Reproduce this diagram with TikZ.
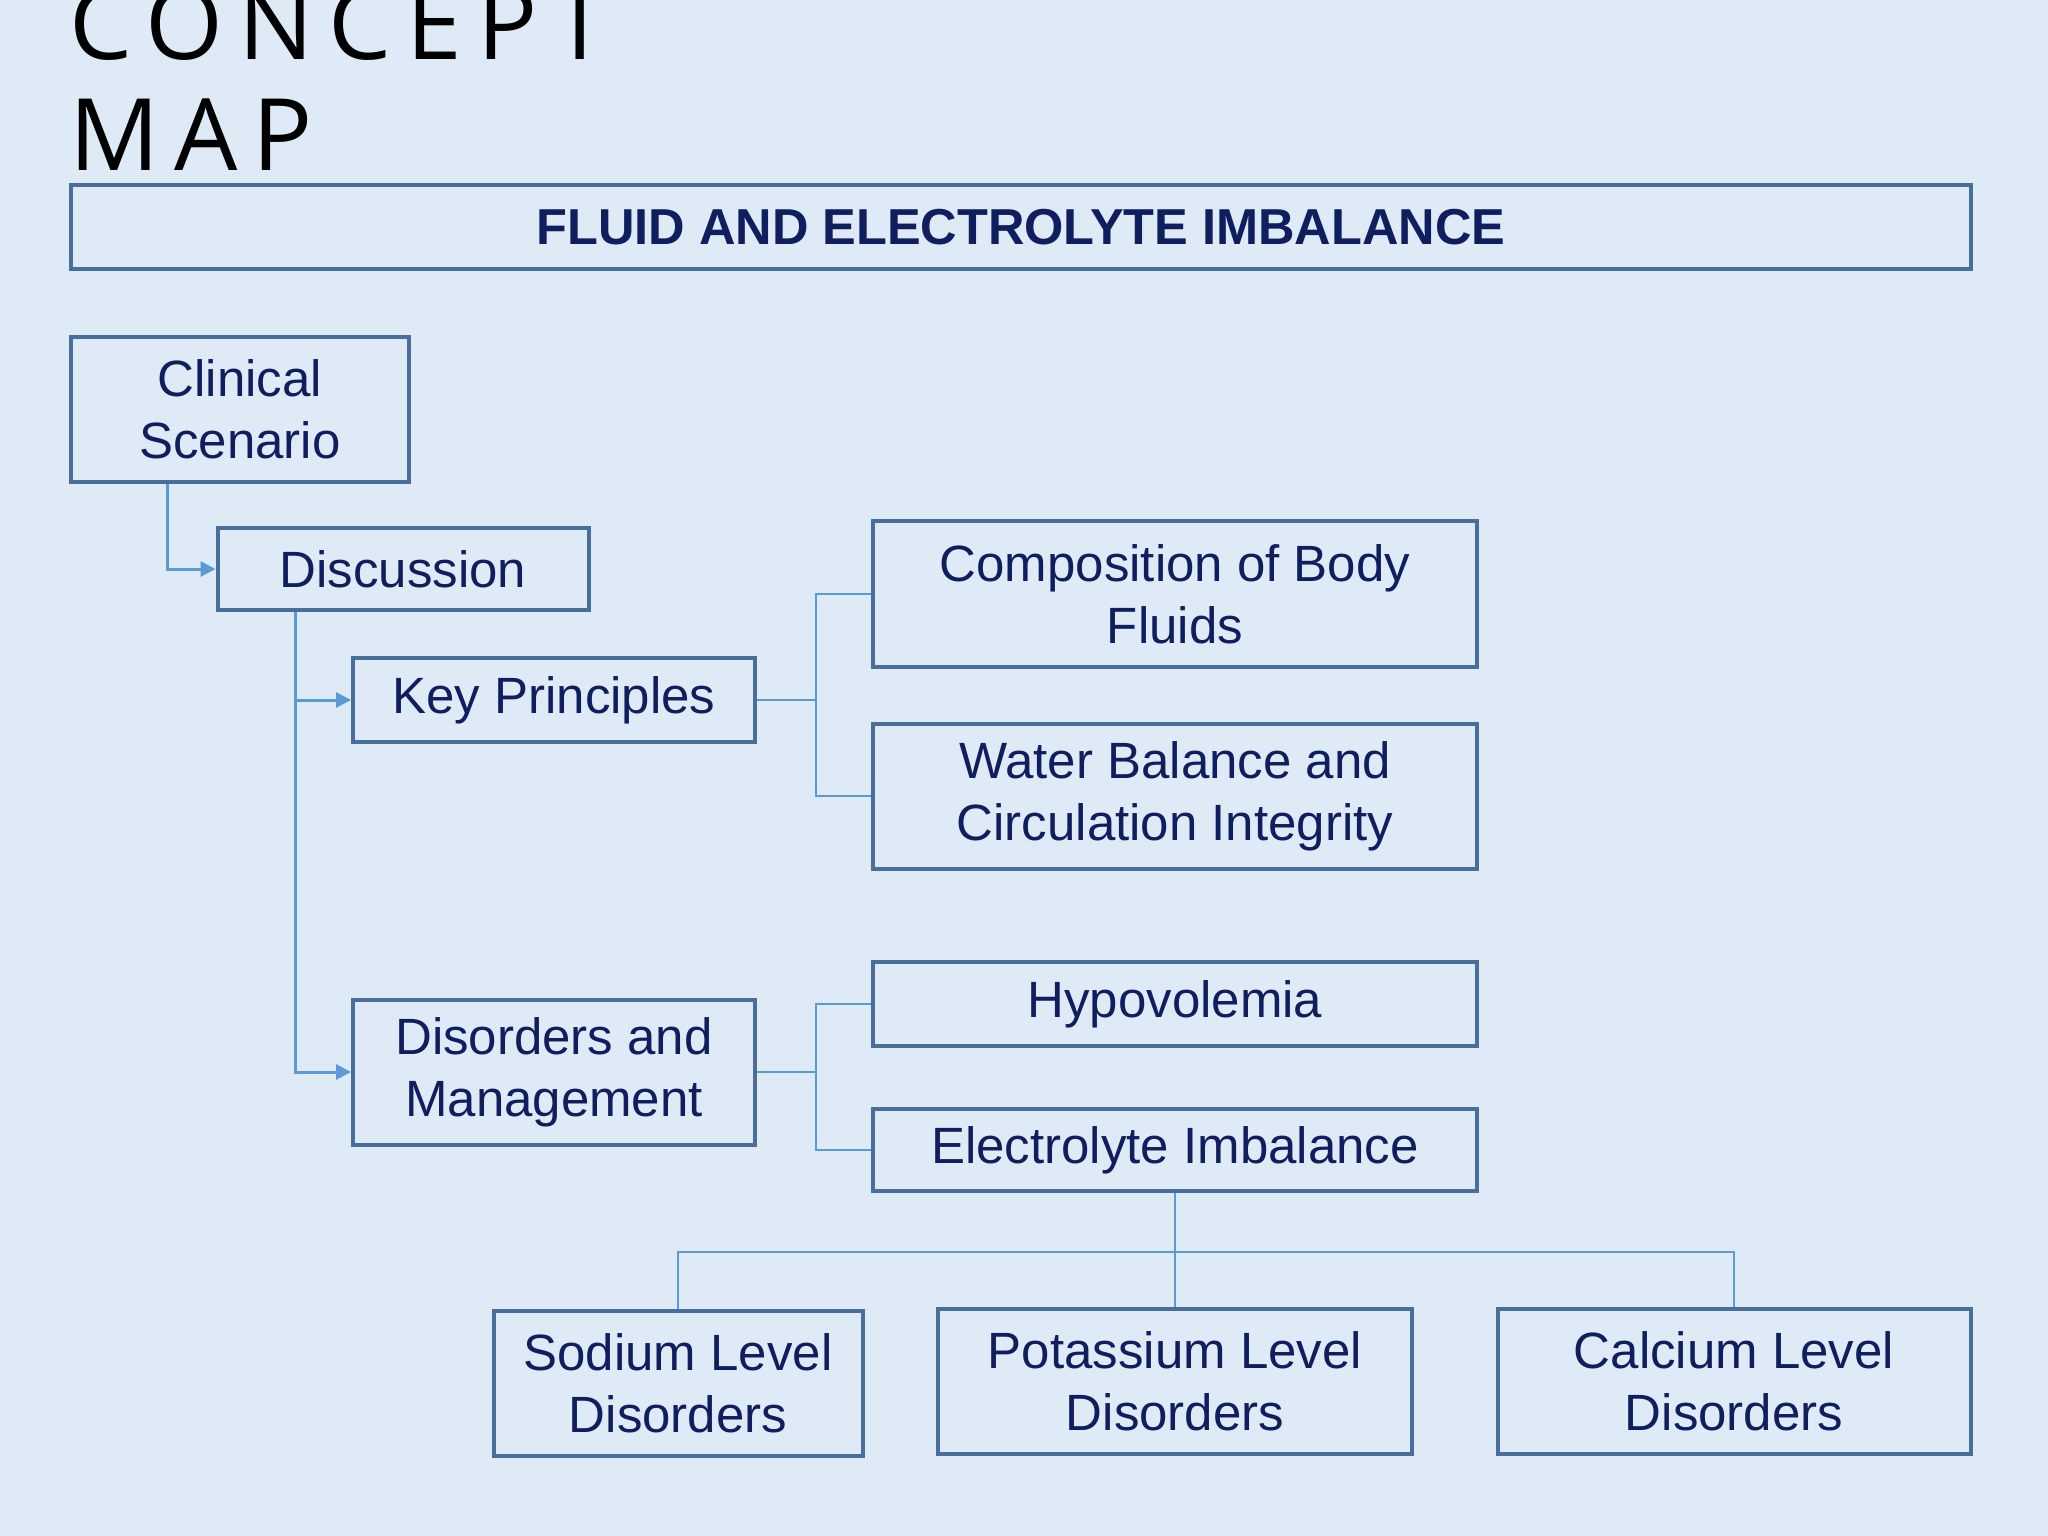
\documentclass[tikz,border=0pt]{standalone}
\usepackage{fontspec}
\setmainfont{Liberation Sans}
\newfontfamily\headfont[LetterSpace=15]{Open Sans}
\usetikzlibrary{arrows.meta,positioning}

\definecolor{bgblue}{RGB}{222,234,246}
\definecolor{boxline}{RGB}{72,110,156}
\definecolor{navy}{RGB}{14,30,94}
\definecolor{linkblue}{RGB}{91,155,213}

\tikzset{
  box/.style={draw=boxline, line width=4pt, text=navy, align=center,
    inner sep=0pt, font=\fontsize{51}{62}\selectfont},
  arr/.style={draw=linkblue, line width=3pt, -{Triangle[length=15pt,width=15pt]}},
  link/.style={draw=linkblue, line width=1.6pt}
}

\begin{document}
\begin{tikzpicture}[x=1pt, y=-1pt]
      % Nền trang
      \fill[bgblue] (0,0) rectangle (2048,1536);
      \useasboundingbox (0,0) rectangle (2048,1536);

      % Tiêu đề
      \node[anchor=base west, inner sep=0pt, font=\headfont\fontsize{100}{110}\selectfont] (cpt) at (69,60) {CONCEPT};
      \node[anchor=base west, inner sep=0pt, font=\headfont\fontsize{100}{110}\selectfont] (mapt) at (69,170) {MAP};
      \node[box, minimum width=1900pt, minimum height=84pt, font=\bfseries\fontsize{50.5}{56}\selectfont] (top) at (1021,227) {FLUID AND ELECTROLYTE IMBALANCE};

      % Các khối bên trái
      \node[box, minimum width=338pt, minimum height=145pt] (clin) at (240,409) {Clinical\\Scenario};
      \node[box, minimum width=371pt, minimum height=82pt] (disc) at (403,569) {Discussion};
      \node[box, minimum width=402pt, minimum height=84pt] (kp) at (554,700) {Key Principles};
      \node[box, minimum width=402pt, minimum height=145pt] (dm) at (554,1072) {Disorders and\\Management};

      % Các khối bên phải
      \node[box, minimum width=604pt, minimum height=146pt] (comp) at (1175,594) {Composition of Body\\Fluids};
      \node[box, minimum width=604pt, minimum height=145pt] (water) at (1175,796) {Water Balance and\\Circulation Integrity};
      \node[box, minimum width=604pt, minimum height=84pt] (hypo) at (1175,1004) {Hypovolemia};
      \node[box, minimum width=604pt, minimum height=82pt] (elec) at (1175,1150) {Electrolyte Imbalance};

      % Hàng dưới cùng
      \node[box, minimum width=369pt, minimum height=145pt] (sod) at (678,1383) {Sodium Level\\Disorders};
      \node[box, minimum width=474pt, minimum height=145pt] (pot) at (1175,1381) {Potassium Level\\Disorders};
      \node[box, minimum width=473pt, minimum height=145pt] (cal) at (1734,1381) {Calcium Level\\Disorders};

      % Mũi tên
      \draw[arr] ([xshift=98pt]clin.south west) |- (disc.west);
      \draw[arr] ([xshift=80pt]disc.south west) |- (kp.west);
      \draw[arr] ([xshift=80pt]disc.south west) |- (dm.west);

      % Đường nối mảnh
      \draw[link] (kp.east) -- ++(59,0) |- (comp.west);
      \draw[link] (kp.east) -- ++(59,0) |- (water.west);
      \draw[link] (dm.east) -- ++(59,0) |- (hypo.west);
      \draw[link] (dm.east) -- ++(59,0) |- (elec.west);
      \draw[link] (elec.south) -- ++(0,59) -| (sod.north);
      \draw[link] (elec.south) -- (pot.north);
      \draw[link] (elec.south) -- ++(0,59) -| (cal.north);
    \end{tikzpicture}
\end{document}
